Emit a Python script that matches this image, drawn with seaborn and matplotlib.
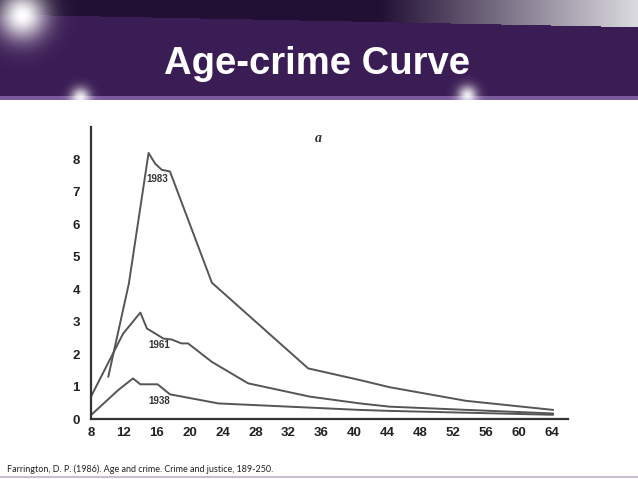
import numpy as np
import pandas as pd
import seaborn as sns
import matplotlib.pyplot as plt

# Age-crime curves (Farrington 1986, fig. a)
ages_1983 = [10.1, 12.6, 15.0, 15.8, 16.6, 17.6, 22.7, 34.4, 40.7, 44.3, 53.6, 64.2]
rates_1983 = [1.3, 4.17, 8.2, 7.87, 7.68, 7.63, 4.2, 1.56, 1.2, 0.98, 0.56, 0.28]

ages_1961 = [8, 11.9, 14.0, 14.8, 16.8, 17.8, 19.0, 19.8, 22.7, 27.1, 34.6, 40.7, 44.3, 64.2]
rates_1961 = [0.69, 2.63, 3.28, 2.79, 2.48, 2.45, 2.33, 2.33, 1.76, 1.1, 0.69, 0.48, 0.38, 0.17]

ages_1938 = [8, 11.3, 13.1, 14.0, 16.1, 17.6, 23.5, 40.7, 44.3, 64.2]
rates_1938 = [0.12, 0.89, 1.25, 1.07, 1.07, 0.76, 0.48, 0.28, 0.25, 0.13]

years = ["1983", "1961", "1938"]
label_pos = {"1983": (16.1, 7.4), "1961": (16.3, 2.27), "1938": (16.3, 0.56)}

x_ticks = list(range(8, 65, 4))
y_ticks = list(range(0, 9))

title = "Age-crime Curve"
citation = "Farrington, D. P. (1986). Age and crime. Crime and justice, 189-250."

# long table for seaborn
frames = []
for yr, a, r in [("1983", ages_1983, rates_1983),
                 ("1961", ages_1961, rates_1961),
                 ("1938", ages_1938, rates_1938)]:
    frames.append(pd.DataFrame({"age": a, "rate": r, "year": yr}))
df = pd.concat(frames, ignore_index=True)

sns.set_style("white")
plt.rcParams["font.family"] = ["Liberation Sans", "DejaVu Sans"]

fig = plt.figure(figsize=(6.38, 4.79), dpi=100)
fig.patch.set_facecolor("white")

# --- slide banner ---
W, H = 638, 100
yy, xx = np.mgrid[0:H, 0:W]
img = np.zeros((H, W, 3))
img[:] = np.array([0x3b, 0x1d, 0x55]) / 255
# darker top strip (slightly sloped edge) with grey/white sweep at right
top = yy < (14 + xx * 0.02)
fade = np.clip((xx - 380) / 258, 0, 1)
dark = np.array([0x22, 0x10, 0x34]) / 255
light = np.array([0xdc, 0xdc, 0xe0]) / 255
img[top] = dark + (light - dark) * fade[top][:, None]
# lighter stripe at the bottom of the banner
img[yy >= 96] = np.array([0x7a, 0x5a, 0x9c]) / 255
# glows
for cx, cy, rad, s in [(22, 15, 34, 1.0), (80, 97, 14, 0.9), (467, 95, 14, 0.9)]:
    g = np.exp(-((xx - cx) ** 2 + (yy - cy) ** 2) / (2 * (rad / 2) ** 2)) * s
    img = img + (1 - img) * g[..., None]
bax = fig.add_axes([0, 1 - H / 479, 1, H / 479])
bax.imshow(np.clip(img, 0, 1), aspect="auto", interpolation="bilinear")
bax.axis("off")
fig.text(0.4976, 1 - 74 / 479, title, color="white", fontsize=27.5,
         fontweight="bold", ha="center", va="baseline")

# --- chart ---
ax = fig.add_axes([91 / 638, 60 / 479, 477 / 638, 292 / 479])
sns.lineplot(data=df, x="age", y="rate", hue="year", estimator=None, sort=False,
             palette=["#555555"] * 3, linewidth=1.4, legend=False, ax=ax)
for yr, (lx, ly) in label_pos.items():
    ax.text(lx, ly, yr, fontsize=7, fontweight="bold", color="#333333",
            ha="center", va="center")
ax.text(35.6, 8.65, "a", fontsize=10, fontstyle="italic", fontweight="bold",
        family="Liberation Serif", color="#333333", ha="center", va="center")

ax.set_xlim(8, 66)
ax.set_ylim(0, 9)
ax.set_xticks(x_ticks)
ax.set_yticks(y_ticks)
ax.set_xticklabels([str(t) for t in x_ticks], fontsize=9.5, fontweight="bold", color="#222222")
ax.set_yticklabels([str(t) for t in y_ticks], fontsize=9.5, fontweight="bold", color="#222222")
ax.set_xlabel("")
ax.set_ylabel("")
ax.tick_params(axis="both", length=3, width=1, color="#444444", direction="out", pad=5)
ax.tick_params(axis="x", pad=3)
for side in ["top", "right"]:
    ax.spines[side].set_visible(False)
for side in ["left", "bottom"]:
    ax.spines[side].set_color("#333333")
    ax.spines[side].set_linewidth(1.6)
ax.set_facecolor("white")

fig.text(7 / 638, 1 - 469 / 479, citation, fontsize=6.5, family="Lato",
         color="#222222", ha="left", va="center")
fig.add_artist(plt.Line2D([0, 1], [1 - 477 / 479] * 2, color="#c8c0d0", lw=1.5))

fig.savefig("out.png", dpi=100)
